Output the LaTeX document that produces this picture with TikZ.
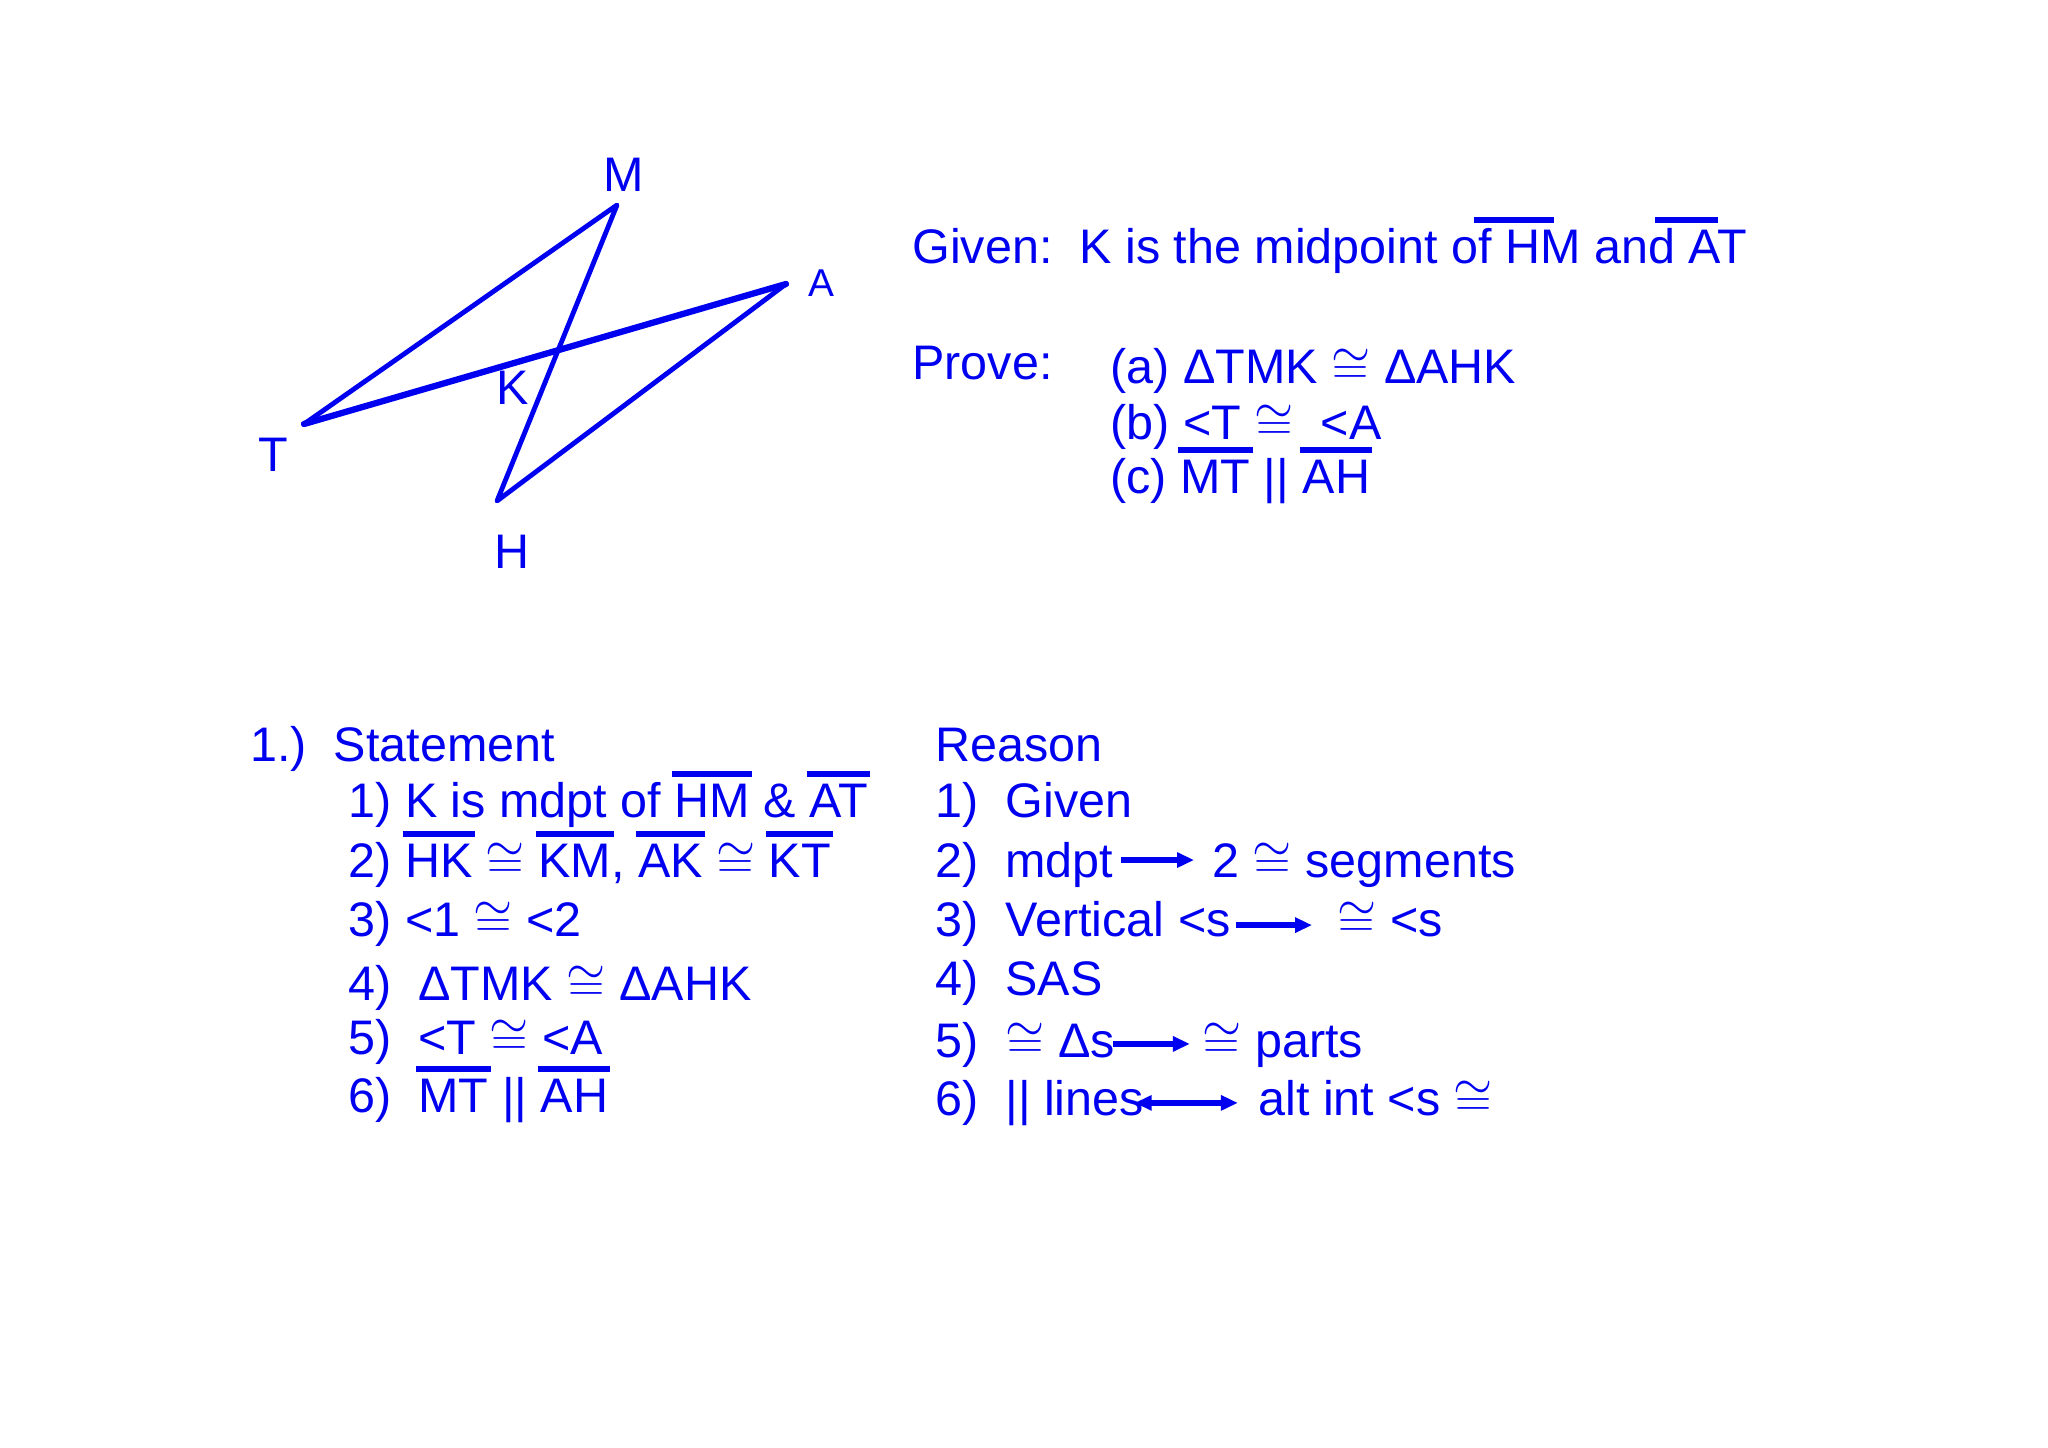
\documentclass[tikz,border=0pt]{standalone}
\usepackage{fontspec}
\setmainfont{Liberation Sans}
\usepackage{amssymb}
\usetikzlibrary{arrows.meta}
\definecolor{ink}{RGB}{0,0,240}
% bar over a segment name
\newlength{\segwd}
\newcommand{\seg}[2][0pt]{\settowidth{\segwd}{#2}\addtolength{\segwd}{2pt}%
  \rlap{\hspace*{#1}\hspace*{-1pt}\rule[16.5pt]{\segwd}{2.3pt}}#2}

\begin{document}
\begin{tikzpicture}[x=0.0145cm, y=-0.0145cm,
  txt/.style={anchor=base west, inner sep=0pt, text=ink, font=\fontsize{20}{24}\selectfont},
  lbl/.style={inner sep=0pt, text=ink, font=\fontsize{20}{24}\selectfont},
  side/.style={draw=ink, line width=2pt, line cap=round, line join=round},
  arr/.style={draw=ink, line width=2.3pt, -{Triangle[length=7pt,width=6pt]}},
  arrs/.style={draw=ink, line width=2.3pt, {Triangle[length=7pt,width=6pt]}-{Triangle[length=7pt,width=6pt]}}]
\useasboundingbox (0,0) rectangle (2048,1447);

% the figure
\coordinate (T) at (304,424);
\coordinate (M) at (617,205);
\coordinate (H) at (497,501);
\coordinate (A) at (786,284);
\draw[side] (T) -- (M) -- (H) -- (A);
\draw[side, line width=2.6pt] (A) -- (T);
\node[lbl] (lM) at (624,175) {M};
\node[lbl, font=\fontsize{16}{20}\selectfont] (lA) at (821,283) {A};
\node[lbl] (lT) at (273,455) {T};
\node[lbl] (lH) at (512,552) {H};
\node[lbl] (lK) at (513,388) {K};

% given / prove
\node[txt] (given) at (912,263) {Given:\ \ K is the midpoint of \seg[-12pt]{HM} and \seg[-13pt]{AT}};
\node[txt] (prove) at (912,379) {Prove:};
\node[txt] (pa) at (1110,383) {(a) ΔTMK $\cong$ ΔAHK};
\node[txt] (pb) at (1110,439) {(b) <T $\cong$\ \ <A};
\node[txt] (pc) at (1110,493) {(c) \seg{MT} || \seg{AH}};

% statements
\node[txt] (stmt) at (250,761) {1.)\ \ Statement};
\node[txt] (s1) at (348,817) {1) K is mdpt of \seg{HM} \& \seg{AT}};
\node[txt] (s2) at (348,877) {2) \seg{HK} $\cong$ \seg{KM}, \seg{AK} $\cong$ \seg{KT}};
\node[txt] (s3) at (348,936) {3) <1 $\cong$ <2};
\node[txt] (s4) at (348,1000) {4)\ \ ΔTMK $\cong$ ΔAHK};
\node[txt] (s5) at (348,1054) {5)\ \ <T $\cong$ <A};
\node[txt] (s6) at (348,1112) {6)\ \ \seg{MT} || \seg{AH}};

% reasons
\node[txt] (reason) at (935,761) {Reason};
\node[txt] (r1) at (935,817) {1)\ \ Given};
\node[txt] (r2a) at (935,877) {2)\ \ mdpt};
\node[txt] (r2b) at (1212,877) {2 $\cong$ segments};
\node[txt] (r3a) at (935,936) {3)\ \ Vertical <s};
\node[txt] (r3b) at (1337,936) {$\cong$ <s};
\node[txt] (r4) at (935,995) {4)\ \ SAS};
\node[txt] (r5a) at (935,1057) {5)\ \ $\cong$ Δs};
\node[txt] (r5b) at (1202,1057) {$\cong$ parts};
\node[txt] (r6a) at (935,1115) {6)\ \ || lines};
\node[txt] (r6b) at (1258,1115) {alt int <s $\cong$};

\draw[arr, shorten <=2.9pt, shorten >=7.4pt] ([yshift=7pt]r2a.base east) -- ([yshift=7pt]r2b.base west);
\draw[arr, shorten <=2pt, shorten >=10.3pt] ([yshift=4.5pt]r3a.base east) -- ([yshift=4.5pt]r3b.base west);
\draw[arr, shorten <=-1pt, shorten >=5pt] ([yshift=5.4pt]r5a.base east) -- ([yshift=5.4pt]r5b.base west);
\draw[arrs, shorten <=-4pt, shorten >=8.3pt] ([yshift=5pt]r6a.base east) -- ([yshift=5pt]r6b.base west);
\end{tikzpicture}
\end{document}
